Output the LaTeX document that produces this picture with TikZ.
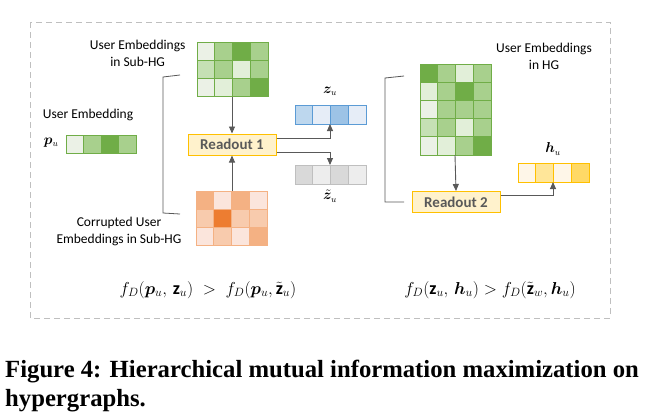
\documentclass[tikz,border=0pt]{standalone}
\usepackage{amsmath,amssymb,bm}
\usepackage{fontspec}
\setmainfont{Carlito}
\newfontfamily\capfont{Liberation Serif}
\usetikzlibrary{arrows.meta}
\definecolor{gA}{HTML}{70AD47}\definecolor{gB}{HTML}{A8D08D}\definecolor{gC}{HTML}{C5E0B4}
\definecolor{gD}{HTML}{E2EFD9}\definecolor{gE}{HTML}{EBF1E6}
\definecolor{oA}{HTML}{ED7D31}\definecolor{oB}{HTML}{F4B183}\definecolor{oC}{HTML}{F8CBAD}\definecolor{oD}{HTML}{FBE5DC}
\definecolor{bA}{HTML}{9DC3E6}\definecolor{bB}{HTML}{BDD7EE}\definecolor{bC}{HTML}{E6EDF7}\definecolor{bE}{HTML}{5B9BD5}
\definecolor{yA}{HTML}{FFD966}\definecolor{yB}{HTML}{FFE699}\definecolor{yC}{HTML}{FEF6E8}\definecolor{yE}{HTML}{FFC000}\definecolor{yF}{HTML}{FFF2CC}
\definecolor{kA}{HTML}{D9D9D9}\definecolor{kB}{HTML}{EDEDED}\definecolor{kE}{HTML}{BFBFBF}
\definecolor{ln}{HTML}{595959}
\tikzset{
 cell/.style={draw=#1,line width=1pt},
 lbl/.style={font=\fontsize{13.5}{17}\selectfont,text=black,align=center},
 arr/.style={draw=ln,line width=0.9pt,-{Triangle[length=7pt,width=6pt]}},
 brk/.style={draw=ln,line width=0.8pt},
 ro/.style={draw=yE,fill=yF,line width=1pt,minimum width=88pt,minimum height=21pt,font=\fontsize{15}{17}\bfseries\selectfont,text=ln,inner sep=0pt},
 fml/.style={font=\fontsize{18}{20}\selectfont},
}
\newcommand\rowcells[6]{%
 \foreach \c [count=\i from 0] in {#6}{%
  \fill[\c] ({#1+\i*#3},#2) rectangle ++(#3,#4);}%
 \foreach \c [count=\i from 0] in {#6}{%
  \draw[cell=#5] ({#1+\i*#3},#2) rectangle ++(#3,#4);}}
\begin{document}
\begin{tikzpicture}[x=1pt,y=-1pt]
\useasboundingbox (0,0) rectangle (655,416);
\draw[kE,line width=1pt,dash pattern=on 6pt off 4pt] (30,22) rectangle (610,318);
% left green matrix
\rowcells{197}{42}{17.75}{18.3}{gA}{gE,gB,gA,gB}
\rowcells{197}{60.3}{17.75}{18.3}{gA}{gC,gB,gD,gB}
\rowcells{197}{78.6}{17.75}{18.3}{gA}{gE,gD,gB,gA}
\coordinate (m1b) at (232,97);
% orange matrix
\rowcells{196}{191}{17.75}{18.3}{oB}{oB,oD,oB,oD}
\rowcells{196}{209.3}{17.75}{18.3}{oB}{oC,oA,oC,oC}
\rowcells{196}{227.6}{17.75}{18.3}{oB}{oD,oC,oD,oB}
\coordinate (m2t) at (232,191);
% p_u
\rowcells{66}{135}{17.5}{18}{gA}{gE,gB,gA,gB}
\node[lbl,anchor=east] (pu) at (62,143) {$\bm{p}_u$};
\node[lbl] (ue) at (88,115) {User Embedding};
\node[lbl,anchor=east] (ues) at (189,53) {User Embeddings\\in Sub-HG};
\node[lbl] (cue) at (119,231) {Corrupted User\\Embeddings in Sub-HG};
\draw[brk] (180,75) -- (163,77) -- (163,213) -- (180,214);
% readout 1
\node[ro] (r1) at (232,144.5) {Readout 1};
\draw[arr] (m1b) -- (r1.north);
\draw[arr] (m2t) -- (r1.south);
% z_u
\rowcells{295}{105}{17.75}{19}{bE}{bB,bC,bA,bC}
\coordinate (zb) at (330,124);
\node[lbl] (zl) at (330,91) {$\bm{z}_u$};
\rowcells{295}{165}{17.75}{19}{kE}{kA,kB,kA,kB}
\coordinate (ztt) at (330,165);
\node[lbl,anchor=north,inner sep=1pt] (ztl) at (330,189) {$\tilde{\bm{z}}_u$};
\draw[arr] (r1.east|-0,138) -| (zb);
\draw[arr] (r1.east|-0,152) -| (ztt);
% right green matrix
\rowcells{420}{64}{17.75}{18.2}{gA}{gA,gB,gD,gB}
\rowcells{420}{82.2}{17.75}{18.2}{gA}{gD,gB,gA,gB}
\rowcells{420}{100.4}{17.75}{18.2}{gA}{gE,gB,gB,gB}
\rowcells{420}{118.6}{17.75}{18.2}{gA}{gC,gB,gD,gB}
\rowcells{420}{136.8}{17.75}{18.2}{gA}{gE,gD,gB,gA}
\coordinate (m3b) at (455,155);
\node[lbl] (ueh) at (544,56) {User Embeddings\\in HG};
\draw[brk] (404,76) -- (385,78) -- (385,202) -- (404,202);
\node[ro] (r2) at (456,202) {Readout 2};
\draw[arr] (m3b) -- (r2.north);
\rowcells{518}{163}{17.75}{19}{yE}{yC,yB,yC,yA}
\coordinate (hb) at (553,182);
\node[lbl] (hl) at (553,149) {$\bm{h}_u$};
\draw[arr] (r2.east|-0,195) -| (hb);
% formulas
\node[fml] (f1) at (208,290) {$f_D(\bm{p}_u,\,\mathbf{z}_u)\;>\;f_D(\bm{p}_u,\tilde{\mathbf{z}}_u)$};
\node[fml] (f2) at (490,290) {$f_D(\mathbf{z}_u,\,\bm{h}_u)>f_D(\tilde{\mathbf{z}}_w,\bm{h}_u)$};
% caption
\node[anchor=west,align=left,inner sep=0pt,font=\capfont\fontsize{24.7}{29}\bfseries\selectfont] (cap) at (5,386) {Figure 4: Hierarchical mutual information maximization on\\hypergraphs.};
\end{tikzpicture}
\end{document}
